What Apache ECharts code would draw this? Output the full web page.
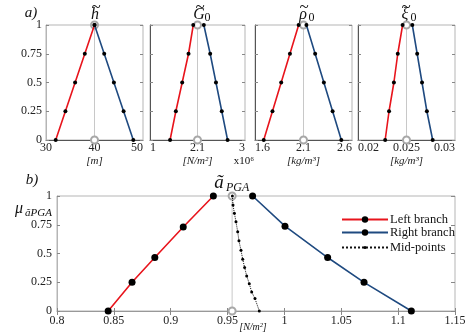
<!DOCTYPE html>
<html><head><meta charset="utf-8">
<script src="https://cdn.jsdelivr.net/npm/echarts@6/dist/echarts.min.js"></script>
<style>html,body{margin:0;padding:0;background:#fff}#c{width:474px;height:335px}</style>
</head><body><div id="c"></div>
<script>
// ---- data ----
const muUp = [0, 0.25, 0.5, 0.75, 1];
const muDown = [1, 0.75, 0.5, 0.25, 0];
const hLeft = [32, 34, 36, 38, 40];
const hRight = [40, 42, 44, 46, 48];
const gLeft = [1.58, 1.69, 1.81, 1.93, 2.02];
const gRight = [2.22, 2.34, 2.45, 2.56, 2.67];
const rhoLeft = [1.69, 1.78, 1.87, 1.96, 2.05];
const rhoRight = [2.13, 2.22, 2.31, 2.40, 2.49];
const xiLeft = [0.0228, 0.0232, 0.0237, 0.0241, 0.0246];
const xiRight = [0.0256, 0.0261, 0.0266, 0.0271, 0.0277];
const topCenters = [40, 2.1, 2.1, 0.025];
const topTickValues = [[30, 40, 50], [1.2, 2.1, 3.0], [1.6, 2.1, 2.6], [0.02, 0.025, 0.03]];
const topTickLabels = [['30', '40', '50'], ['1', '2.1', '3'], ['1.6', '2.1', '2.6'], ['0.02', '0.025', '0.03']];
const topRanges = [[30, 50], [1.2, 3.0], [1.6, 2.6], [0.02, 0.03]];
const topUnits = ['[m]', '[N/m²]', '[kg/m³]', '[kg/m³]'];
const titleLetters = ['h', 'G', 'ρ', 'ξ'];
const titleSubs = ['', '0', '0', '0'];

const pgaLeftX = [0.845, 0.866, 0.886, 0.911, 0.9375];
const pgaLeftMu = [0, 0.25, 0.465, 0.73, 1];
const pgaRightX = [0.972, 1.0005, 1.038, 1.07, 1.1116];
const pgaRightMu = [1, 0.738, 0.465, 0.249, 0];
const midX = [0.9542, 0.9548, 0.956, 0.9574, 0.9589, 0.960, 0.9618, 0.9633, 0.965, 0.9668, 0.9691, 0.9712, 0.9741, 0.9779];
const midMu = [1, 0.921, 0.849, 0.776, 0.689, 0.610, 0.529, 0.450, 0.378, 0.305, 0.238, 0.165, 0.108, 0];
const pgaCenter = 0.954;
const legendNames = ['Left branch', 'Right branch', 'Mid-points'];

// ---- build ----
const FONT = 'Liberation Serif';
const RED = '#e8141c', BLUE = '#1f4a80';
const topLefts = [[46, 97], [150, 95], [255, 97], [358, 97]];
const minAlign = ['center', 'left', 'left', 'left'];
const grid = topLefts.map(([l, w]) => ({left: l, top: 25, width: w, height: 115, show: true, borderColor: '#b5b5b5', borderWidth: 1}));
grid.push({left: 57, top: 196, width: 398, height: 115, show: true, borderColor: '#b5b5b5', borderWidth: 1});

const xAxis = [], yAxis = [], series = [];
const zip = (a, b) => a.map((v, i) => [v, b[i]]);
const lblStyle = {fontFamily: FONT, fontSize: 12, color: '#222'};

for (let i = 0; i < 4; i++) {
  xAxis.push({gridIndex: i, type: 'value', min: topRanges[i][0], max: topRanges[i][1],
    axisLine: {show: true, lineStyle: {color: '#555'}},
    axisTick: {show: false},
    axisLabel: Object.assign({customValues: topTickValues[i], margin: 2,
      alignMinLabel: minAlign[i], alignMaxLabel: 'right',
      formatter: (v) => { const k = topTickValues[i].findIndex(t => Math.abs(t - v) < 1e-9); return k >= 0 ? topTickLabels[i][k] : ''; },
      showMinLabel: true, showMaxLabel: true}, lblStyle),
    splitLine: {show: false},
    name: topUnits[i], nameLocation: 'middle', nameGap: 16,
    nameTextStyle: {fontFamily: FONT, fontStyle: 'italic', fontSize: 11, color: '#222'}});
  yAxis.push({gridIndex: i, type: 'value', min: 0, max: 1, interval: 0.25,
    axisLine: {show: true, lineStyle: {color: i === 0 ? '#b5b5b5' : '#555'}},
    axisTick: {show: true, inside: true, length: 3, lineStyle: {color: '#888'}},
    axisLabel: Object.assign({show: i === 0, margin: 4}, lblStyle),
    splitLine: {show: false}});
  yAxis.push({gridIndex: i, type: 'value', min: 0, max: 1, interval: 0.25, position: 'right',
    axisLine: {show: false}, axisTick: {show: true, inside: true, length: 3, lineStyle: {color: '#888'}},
    axisLabel: {show: false}, splitLine: {show: false}});
}
// bottom
xAxis.push({gridIndex: 4, type: 'value', min: 0.8, max: 1.15, interval: 0.05,
  axisLine: {show: true, lineStyle: {color: '#999'}},
  axisTick: {show: true, inside: true, length: 3, lineStyle: {color: '#888'}},
  axisLabel: Object.assign({margin: 4, showMaxLabel: true}, lblStyle),
  splitLine: {show: false}});
xAxis.push({gridIndex: 4, type: 'value', min: 0.8, max: 1.15, interval: 0.05, position: 'top',
  axisLine: {show: false}, axisTick: {show: true, inside: true, length: 4, lineStyle: {color: '#888'}},
  axisLabel: {show: false}, splitLine: {show: false}});
yAxis.push({gridIndex: 4, type: 'value', min: 0, max: 1, interval: 0.25,
  axisLine: {show: true, lineStyle: {color: '#b5b5b5'}},
  axisTick: {show: true, inside: true, length: 3, lineStyle: {color: '#888'}},
  axisLabel: Object.assign({margin: 5}, lblStyle), splitLine: {show: false}});
yAxis.push({gridIndex: 4, type: 'value', min: 0, max: 1, interval: 0.25, position: 'right',
  axisLine: {show: false}, axisTick: {show: true, inside: true, length: 4, lineStyle: {color: '#888'}},
  axisLabel: {show: false}, splitLine: {show: false}});

const topData = [[hLeft, hRight], [gLeft, gRight], [rhoLeft, rhoRight], [xiLeft, xiRight]];
for (let i = 0; i < 4; i++) {
  series.push({type: 'line', xAxisIndex: i, yAxisIndex: i * 2, data: [[topCenters[i], 0], [topCenters[i], 1]],
    lineStyle: {color: '#c8c8c8', width: 1}, symbol: 'emptyCircle', symbolSize: 7,
    itemStyle: {color: '#a8a8a8', borderWidth: 1}, z: 1, silent: true, animation: false});
  series.push({type: 'line', xAxisIndex: i, yAxisIndex: i * 2, data: zip(topData[i][0], muUp),
    lineStyle: {color: RED, width: 1.6}, symbol: 'circle', symbolSize: 4, itemStyle: {color: '#000'}, z: 3, animation: false});
  series.push({type: 'line', xAxisIndex: i, yAxisIndex: i * 2, data: zip(topData[i][1], muDown),
    lineStyle: {color: BLUE, width: 1.6}, symbol: 'circle', symbolSize: 4, itemStyle: {color: '#000'}, z: 3, animation: false});
}
series.push({type: 'line', xAxisIndex: 4, yAxisIndex: 8, data: [[pgaCenter, 0], [pgaCenter, 1]],
  lineStyle: {color: '#c8c8c8', width: 1}, symbol: 'emptyCircle', symbolSize: 7,
  itemStyle: {color: '#a8a8a8', borderWidth: 1}, z: 1, silent: true, animation: false});
series.push({name: legendNames[0], type: 'line', xAxisIndex: 4, yAxisIndex: 8, data: zip(pgaLeftX, pgaLeftMu),
  lineStyle: {color: RED, width: 1.6}, symbol: 'circle', symbolSize: 7, itemStyle: {color: '#000'}, z: 3, animation: false});
series.push({name: legendNames[1], type: 'line', xAxisIndex: 4, yAxisIndex: 8, data: zip(pgaRightX, pgaRightMu),
  lineStyle: {color: BLUE, width: 1.6}, symbol: 'circle', symbolSize: 7, itemStyle: {color: '#000'}, z: 3, animation: false});
series.push({name: legendNames[2], type: 'line', xAxisIndex: 4, yAxisIndex: 8, data: zip(midX, midMu),
  lineStyle: {color: '#111', width: 1, type: 'dotted'}, symbol: 'circle', symbolSize: 3, itemStyle: {color: '#000'}, z: 3, animation: false});

const txt = (x, y, text, size, extra) => ({type: 'text', x, y, style: Object.assign({text, fontFamily: FONT, fontSize: size, fill: '#111', align: 'center', verticalAlign: 'middle'}, extra || {})});
const titleX = [95, 199, 303, 405];
const graphic = [
  txt(31, 13, 'a)', 15, {fontStyle: 'italic'}),
  txt(32, 180, 'b)', 15, {fontStyle: 'italic'}),
  txt(244, 161, 'x10⁶', 11),
  txt(253, 327, '[N/m²]', 10, {fontStyle: 'italic'}),
  txt(219, 183, 'ã', 19, {fontStyle: 'italic'}),
  txt(226, 188, 'PGA', 12, {fontStyle: 'italic', align: 'left'}),
  txt(19, 209, 'μ', 16, {fontStyle: 'italic'}),
  txt(25, 213, 'ãPGA', 11, {fontStyle: 'italic', align: 'left'})
];
titleLetters.forEach((t, i) => {
  graphic.push(txt(titleX[i], 15, t, 16, {fontStyle: 'italic'}));
  graphic.push(txt(titleX[i] + 1, 7.5, '~', 17));
  if (titleSubs[i]) graphic.push(txt(titleX[i] + 8.5, 18, titleSubs[i], 12));
});

const legendText = {fontFamily: FONT, fontSize: 12.5, lineHeight: 13, color: '#111', padding: [0, 0, 0, -3]};
const chart = echarts.init(document.getElementById('c'), null, {renderer: 'canvas'});
chart.setOption({
  animation: false,
  grid, xAxis, yAxis, series, graphic,
  legend: [
    {data: legendNames.slice(0, 2), orient: 'vertical', left: 336, top: 208,
      itemWidth: 46, itemHeight: 8, itemGap: 0, textStyle: legendText},
    {data: legendNames.slice(2), orient: 'vertical', left: 336, top: 236,
      itemWidth: 46, itemHeight: 4, itemGap: 0, textStyle: legendText}
  ]
});
</script></body></html>
